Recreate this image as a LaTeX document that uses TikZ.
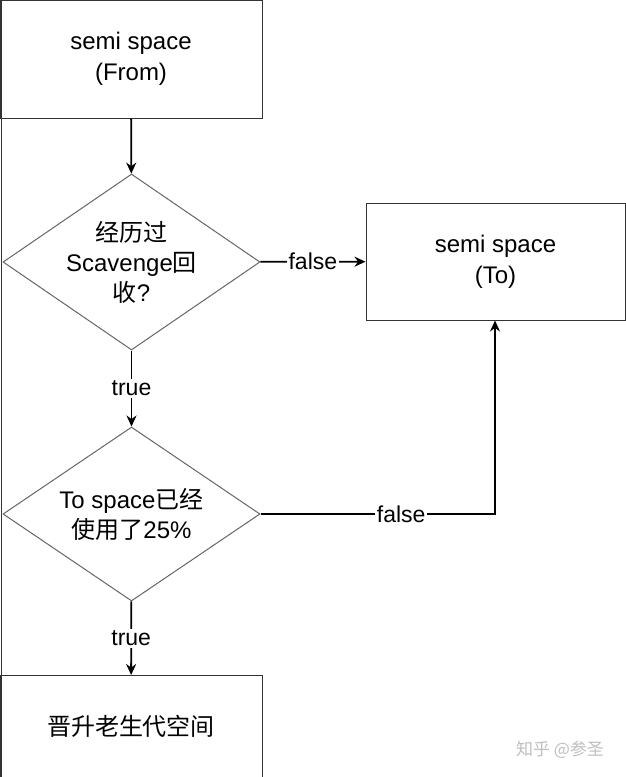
\documentclass[tikz,border=0pt]{standalone}
\usepackage{fontspec}
\setmainfont{Liberation Sans}
\newfontfamily\cjk{Noto Sans CJK SC}
\usetikzlibrary{shapes.geometric,arrows.meta}
\tikzset{
 box/.style={draw=black!80,line width=1pt,minimum width=262pt,minimum height=118pt,align=center,font=\fontsize{24}{31}\selectfont},
 dia/.style={draw=black!60,line width=1pt,diamond,shape aspect=1.46,minimum width=257pt,minimum height=176pt,align=center,font=\fontsize{24}{30}\selectfont,inner sep=0pt},
 arr/.style={line width=1.8pt,-{Stealth[length=11pt,width=10pt]}},
 lab/.style={fill=white,inner sep=2pt,font=\fontsize{23}{26}\selectfont}
}
\begin{document}
\begin{tikzpicture}[x=1pt,y=-1pt]
\useasboundingbox[fill=white] (0,0) rectangle (626,777);
\draw[black!80,line width=1pt] (1,0) -- (1,777);
\node[box] (from) at (131,59) {semi space\\(From)};
\node[dia] (d1) at (131.5,262) {{\cjk 经历过}\\Scavenge{\cjk 回}\\{\cjk 收}?};
\node[box,minimum width=259pt,minimum height=117pt] (to) at (495.5,261.5) {semi space\\(To)};
\node[dia,minimum height=174pt] (d2) at (131.5,514) {To space{\cjk 已经}\\{\cjk 使用了}25\%};
\node[box,minimum height=102pt,anchor=north] (old) at (131,675) {\cjk 晋升老生代空间};
\draw[arr] (from) -- (d1);
\draw[arr] (d1) -- node[lab]{true} (d2);
\draw[arr] (d2) -- node[lab]{true} (old);
\draw[arr] (d1) -- node[lab]{false} (to);
\coordinate (c) at (495,514);
\draw[arr] (d2.east) -- node[lab,pos=0.6]{false} (c) -- (to.south -| c);
\node[text=black!25,font=\cjk\fontsize{17}{20}\selectfont] (wm) at (560,750) {知乎 @参圣};
\end{tikzpicture}
\end{document}
